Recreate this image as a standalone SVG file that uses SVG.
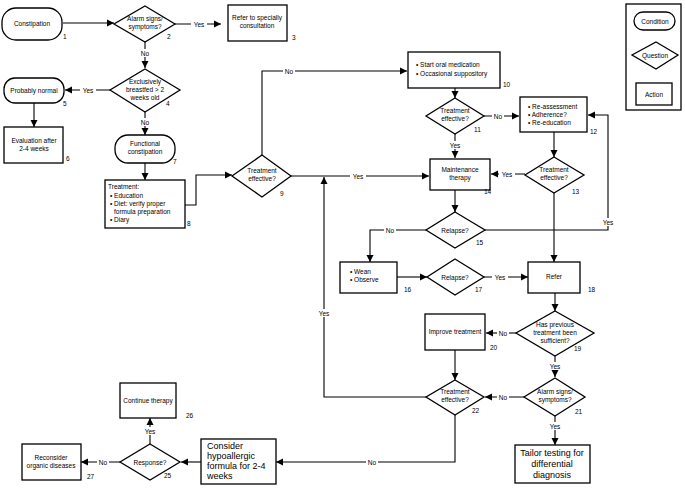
<svg xmlns="http://www.w3.org/2000/svg" width="685" height="491" viewBox="0 0 685 491">
<style>
.s{fill:#fff;stroke:#000;stroke-width:1.3}
.l{fill:none;stroke:#000;stroke-width:1.1}
text{font-family:"Liberation Sans",Arial,sans-serif;font-size:6.5px;fill:#000}
.c{text-anchor:middle}
.b{font-size:9px}
.lb{text-anchor:middle}
</style>
<defs>
<marker id="a" markerWidth="8" markerHeight="8" refX="7" refY="4" orient="auto" markerUnits="userSpaceOnUse"><path d="M0,0.5 L7,4 L0,7.5z" fill="#000"/></marker>
</defs>
<rect width="685" height="491" fill="#fff"/>
<g id="connectors">
<path class="l" d="M63,23H114" marker-end="url(#a)"/>
<path class="l" d="M174,24H221" marker-end="url(#a)"/>
<path class="l" d="M145,41V68" marker-end="url(#a)"/>
<path class="l" d="M110,90H65" marker-end="url(#a)"/>
<path class="l" d="M34,103V127" marker-end="url(#a)"/>
<path class="l" d="M145,112V135" marker-end="url(#a)"/>
<path class="l" d="M145,163V180" marker-end="url(#a)"/>
<path class="l" d="M185,205H196V175H232" marker-end="url(#a)"/>
<path class="l" d="M262,157V71H407" marker-end="url(#a)"/>
<path class="l" d="M290,176H429" marker-end="url(#a)"/>
<path class="l" d="M455,88V98" marker-end="url(#a)"/>
<path class="l" d="M484,116H519" marker-end="url(#a)"/>
<path class="l" d="M455,134V158" marker-end="url(#a)"/>
<path class="l" d="M554,132V157" marker-end="url(#a)"/>
<path class="l" d="M525,174H491" marker-end="url(#a)"/>
<path class="l" d="M455,190V212" marker-end="url(#a)"/>
<path class="l" d="M426,230H370V262" marker-end="url(#a)"/>
<path class="l" d="M485,230H608V115H588" marker-end="url(#a)"/>
<path class="l" d="M554,193V262" marker-end="url(#a)"/>
<path class="l" d="M397,277H427" marker-end="url(#a)"/>
<path class="l" d="M484,277H528" marker-end="url(#a)"/>
<path class="l" d="M555,293V311" marker-end="url(#a)"/>
<path class="l" d="M517,333H486" marker-end="url(#a)"/>
<path class="l" d="M555,356V377" marker-end="url(#a)"/>
<path class="l" d="M455,350V380" marker-end="url(#a)"/>
<path class="l" d="M524,397H485" marker-end="url(#a)"/>
<path class="l" d="M426,397H324V177" marker-end="url(#a)"/>
<path class="l" d="M455,415V462H276" marker-end="url(#a)"/>
<path class="l" d="M555,415V445" marker-end="url(#a)"/>
<path class="l" d="M201,462H181" marker-end="url(#a)"/>
<path class="l" d="M120,462H81" marker-end="url(#a)"/>
<path class="l" d="M150,444V418" marker-end="url(#a)"/>
<g>
<rect x="191" y="19" width="16" height="9" fill="#fff"/><text x="199" y="26.5" class="lb">Yes</text>
<rect x="139" y="49" width="12" height="8" fill="#fff"/><text x="145" y="56" class="lb">No</text>
<rect x="80" y="86" width="16" height="8" fill="#fff"/><text x="88" y="92.5" class="lb">Yes</text>
<rect x="139" y="118" width="12" height="8" fill="#fff"/><text x="145" y="125" class="lb">No</text>
<rect x="283" y="67" width="12" height="8" fill="#fff"/><text x="289" y="73.5" class="lb">No</text>
<rect x="350" y="172" width="16" height="8" fill="#fff"/><text x="358" y="178.5" class="lb">Yes</text>
<rect x="492" y="112" width="12" height="8" fill="#fff"/><text x="498" y="118.5" class="lb">No</text>
<rect x="447" y="141" width="16" height="8" fill="#fff"/><text x="455" y="147.5" class="lb">Yes</text>
<rect x="499" y="170" width="16" height="8" fill="#fff"/><text x="507" y="176.5" class="lb">Yes</text>
<rect x="384" y="226" width="12" height="8" fill="#fff"/><text x="390" y="232.5" class="lb">No</text>
<rect x="600" y="218" width="16" height="8" fill="#fff"/><text x="608" y="224.5" class="lb">Yes</text>
<rect x="492" y="273" width="16" height="8" fill="#fff"/><text x="500" y="279.5" class="lb">Yes</text>
<rect x="497" y="329" width="12" height="8" fill="#fff"/><text x="503" y="335.5" class="lb">No</text>
<rect x="547" y="362" width="16" height="8" fill="#fff"/><text x="555" y="368.5" class="lb">Yes</text>
<rect x="497" y="393" width="12" height="8" fill="#fff"/><text x="503" y="399.5" class="lb">No</text>
<rect x="316" y="309" width="16" height="8" fill="#fff"/><text x="324" y="315.5" class="lb">Yes</text>
<rect x="366" y="458" width="12" height="8" fill="#fff"/><text x="372" y="464.5" class="lb">No</text>
<rect x="547" y="422" width="16" height="8" fill="#fff"/><text x="555" y="428.5" class="lb">Yes</text>
<rect x="97" y="458" width="12" height="8" fill="#fff"/><text x="103" y="464.5" class="lb">No</text>
<rect x="142" y="427" width="16" height="8" fill="#fff"/><text x="150" y="433.5" class="lb">Yes</text>
</g>
</g>
<g id="n1"><rect class="s" x="2" y="8" width="60" height="32" rx="14"/><text x="32" y="26" class="c">Constipation</text><text x="63" y="39">1</text></g>
<g id="n2"><path class="s" d="M145,6L175,24L145,42L114,24z"/><text x="145" y="21" class="c">Alarm signs/</text><text x="145" y="29" class="c">symptoms?</text><text x="167" y="39">2</text></g>
<g id="n3"><rect class="s" x="228" y="5" width="59" height="36"/><text x="257" y="20" class="c">Refer to specially</text><text x="257" y="28" class="c">consultation</text><text x="292" y="40">3</text></g>
<g id="n4"><path class="s" d="M145,69L180,90L145,112L110,90z"/><text x="145" y="84" class="c">Exclusively</text><text x="145" y="92" class="c">breastfed &gt; 2</text><text x="145" y="100" class="c">weeks old</text><text x="166" y="106">4</text></g>
<g id="n5"><rect class="s" x="4" y="78" width="60" height="25" rx="11"/><text x="34" y="93" class="c">Probably normal</text><text x="63" y="106">5</text></g>
<g id="n6"><rect class="s" x="4" y="127" width="59" height="36"/><text x="34" y="143" class="c">Evaluation after</text><text x="34" y="151" class="c">2-4 weeks</text><text x="66" y="161">6</text></g>
<g id="n7"><rect class="s" x="115" y="135" width="60" height="28" rx="13"/><text x="145" y="146" class="c">Functional</text><text x="145" y="154" class="c">constipation</text><text x="173" y="164">7</text></g>
<g id="n8"><rect class="s" x="105" y="180" width="80" height="48"/><text x="108" y="189">Treatment:</text><text x="110" y="198">• Education</text><text x="110" y="206">• Diet: verify proper</text><text x="114" y="214">formula preparation</text><text x="110" y="222">• Diary</text><text x="187" y="226">8</text></g>
<g id="n9"><path class="s" d="M262,155L291,176L262,197L232,176z"/><text x="262" y="173" class="c">Treatment</text><text x="262" y="181" class="c">effective?</text><text x="280" y="196">9</text></g>
<g id="n10"><rect class="s" x="408" y="52" width="92" height="36"/><text x="416" y="67">• Start oral medication</text><text x="416" y="76">• Occasional suppository</text><text x="503" y="87">10</text></g>
<g id="n11"><path class="s" d="M455,98L484,116L455,134L426,116z"/><text x="455" y="113" class="c">Treatment</text><text x="455" y="121" class="c">effective?</text><text x="474" y="132">11</text></g>
<g id="n12"><rect class="s" x="520" y="97" width="67" height="35"/><text x="528" y="109">• Re-assessment</text><text x="528" y="117">• Adherence?</text><text x="528" y="125">• Re-education</text><text x="590" y="134">12</text></g>
<g id="n13"><path class="s" d="M554,157L584,175L554,193L525,175z"/><text x="554" y="172" class="c">Treatment</text><text x="554" y="180" class="c">effective?</text><text x="572" y="194">13</text></g>
<g id="n14"><rect class="s" x="430" y="159" width="60" height="31"/><text x="460" y="172" class="c">Maintenance</text><text x="460" y="180" class="c">therapy</text><text x="484" y="194">14</text></g>
<g id="n15"><path class="s" d="M455,212L485,230L455,248L426,230z"/><text x="455" y="233" class="c">Relapse?</text><text x="476" y="245">15</text></g>
<g id="n16"><rect class="s" x="340" y="262" width="57" height="31"/><text x="350" y="274">• Wean</text><text x="350" y="282">• Observe</text><text x="404" y="292">16</text></g>
<g id="n17"><path class="s" d="M455,259L484,277L455,295L427,277z"/><text x="455" y="280" class="c">Relapse?</text><text x="475" y="292">17</text></g>
<g id="n18"><rect class="s" x="528" y="262" width="52" height="31"/><text x="554" y="279" class="c">Refer</text><text x="588" y="292">18</text></g>
<g id="n19"><path class="s" d="M555,311L594,333L555,356L516,333z"/><text x="555" y="327" class="c">Has previous</text><text x="555" y="335" class="c">treatment been</text><text x="555" y="343" class="c">sufficient?</text><text x="574" y="351">19</text></g>
<g id="n20"><rect class="s" x="425" y="314" width="60" height="36"/><text x="455" y="334" class="c">Improve treatment</text><text x="490" y="350">20</text></g>
<g id="n21"><path class="s" d="M555,378L585,397L555,416L524,397z"/><text x="555" y="394" class="c">Alarm signs/</text><text x="555" y="402" class="c">symptoms?</text><text x="575" y="414">21</text></g>
<g id="n22"><path class="s" d="M455,380L484,397L455,415L426,397z"/><text x="455" y="394" class="c">Treatment</text><text x="455" y="402" class="c">effective?</text><text x="472" y="413">22</text></g>
<g id="n23"><rect class="s" x="515" y="445" width="75" height="38"/><text x="552" y="456" class="c b">Tailor testing for</text><text x="552" y="467" class="c b">differential</text><text x="552" y="478" class="c b">diagnosis</text></g>
<g id="n24"><rect class="s" x="201" y="439" width="75" height="45"/><text x="207" y="449" class="b">Consider</text><text x="207" y="459" class="b">hypoallergic</text><text x="207" y="469" class="b">formula for 2-4</text><text x="207" y="479" class="b">weeks</text></g>
<g id="n25"><path class="s" d="M150,444L180,462L150,480L120,462z"/><text x="150" y="465" class="c">Response?</text><text x="164" y="478">25</text></g>
<g id="n26"><rect class="s" x="120" y="383" width="56" height="35"/><text x="148" y="403" class="c">Continue therapy</text><text x="186" y="418">26</text></g>
<g id="n27"><rect class="s" x="22" y="444" width="59" height="36"/><text x="51" y="460" class="c">Reconsider</text><text x="51" y="468" class="c">organic diseases</text><text x="87" y="479">27</text></g>
<g id="legend"><rect class="s" x="626" y="4" width="55" height="106"/><rect class="s" x="634" y="12" width="41" height="18" rx="9"/><text x="655" y="23.5" class="c">Condition</text><path class="s" d="M656,42L678,55L656,69L632,55z"/><text x="655" y="58" class="c">Question</text><rect class="s" x="636" y="83" width="36" height="22"/><text x="654" y="97" class="c">Action</text></g>
</svg>
